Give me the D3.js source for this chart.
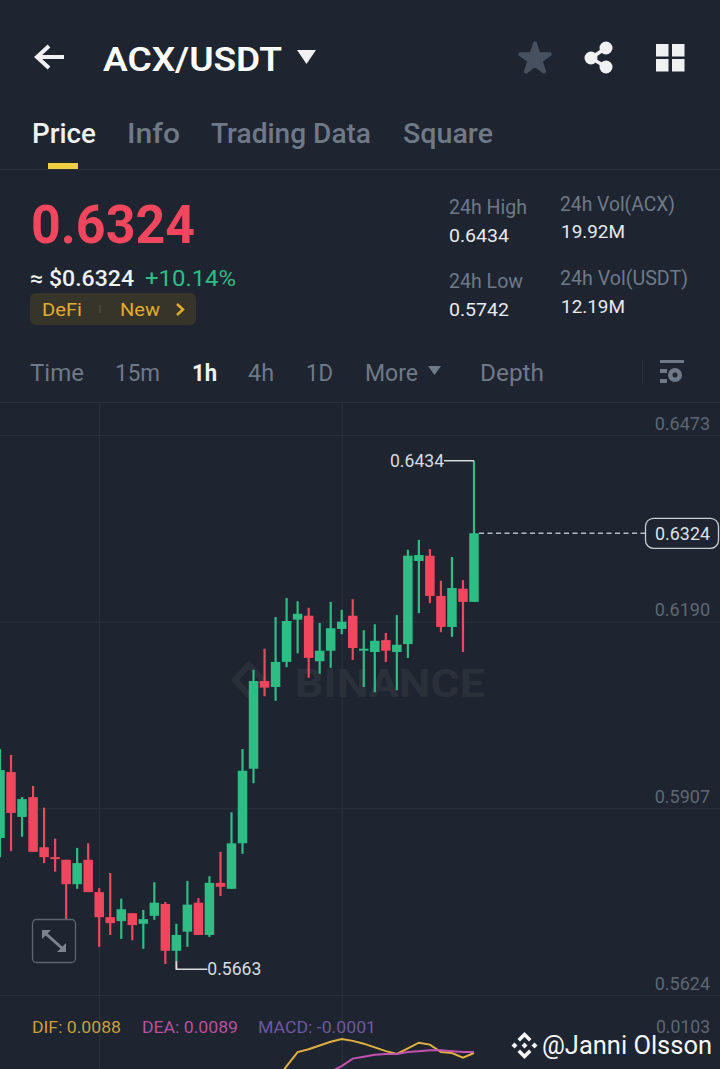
<!DOCTYPE html>
<html>
<head>
<meta charset="utf-8">
<script src="https://cdn.jsdelivr.net/npm/d3@7"></script>
<style>
  html, body { margin: 0; padding: 0; background: #1e2530; overflow: hidden; }
  svg { display: block; }
  text { font-family: Roboto, "Noto Sans", sans-serif; }
</style>
</head>
<body>
<div id="chart"></div>
<script>
// candles, oldest first
var opens = [0.5862,0.5962,0.5894,0.5924,0.5848,0.5833,0.5829,0.5792,0.5829,0.5780,0.5742,
  0.5736,0.5748,0.5732,0.5744,0.5762,0.5691,0.5720,0.5764,0.5715,0.5794,0.5785,
  0.5854,0.5967,0.6100,0.6091,0.6129,0.6193,0.6199,0.6130,0.6146,0.6179,0.6199,
  0.6146,0.6144,0.6162,0.6144,0.6156,0.6282,0.6290,0.6229,0.6182,0.6240,0.6220];
var closes = [0.5965,0.5900,0.5921,0.5841,0.5833,0.5830,0.5792,0.5824,0.5780,0.5742,0.5733,
  0.5754,0.5730,0.5739,0.5764,0.5691,0.5715,0.5761,0.5715,0.5794,0.5788,0.5854,
  0.5964,0.6100,0.6090,0.6129,0.6191,0.6202,0.6135,0.6146,0.6180,0.6190,0.6150,
  0.6149,0.6161,0.6146,0.6155,0.6290,0.6291,0.6229,0.6182,0.6241,0.6220,0.6324];
var highs = [0.5997,0.5988,0.5924,0.5941,0.5908,0.5861,0.5829,0.5847,0.5854,0.5786,0.5809,
  0.5770,0.5748,0.5753,0.5795,0.5765,0.5732,0.5797,0.5771,0.5804,0.5841,0.5901,
  0.5997,0.6117,0.6149,0.6197,0.6226,0.6221,0.6211,0.6188,0.6220,0.6208,0.6224,
  0.6177,0.6186,0.6173,0.6200,0.6299,0.6314,0.6300,0.6252,0.6288,0.6253,0.6434];
var lows = [0.5833,0.5842,0.5864,0.5841,0.5824,0.5811,0.5738,0.5785,0.5780,0.5697,0.5715,
  0.5709,0.5707,0.5694,0.5738,0.5671,0.5663,0.5697,0.5715,0.5712,0.5774,0.5785,
  0.5838,0.5945,0.6077,0.6070,0.6121,0.6142,0.6105,0.6111,0.6120,0.6171,0.6132,
  0.6091,0.6083,0.6129,0.6086,0.6135,0.6203,0.6218,0.6174,0.6167,0.6144,0.6220];

// macd lines, only the part that shows
var difStart = 25;
var difValues = [0.0057,0.0074,0.0089,0.0092,0.0096,0.0100,0.0103,0.0101,0.0098,0.0094,
  0.0090,0.0087,0.0093,0.0099,0.0097,0.0089,0.0088,0.0083,0.0088];
var deaStart = 30;
var deaValues = [0.0068,0.0074,0.0082,0.0084,0.0086,0.0087,0.0087,0.0089,0.0090,0.0091,
  0.0091,0.0090,0.0089,0.0089];

var priceTicks = [0.6473, 0.6190, 0.5907, 0.5624];
var gridIndexes = [9, 31];

var tabs = ["Price", "Info", "Trading Data", "Square"];
var intervals = ["Time", "15m", "1h", "4h", "1D", "More", "Depth"];

var width = 720, height = 1069;
var bg = "#1e2530", gridColor = "#2c323d", upColor = "#2ebd85", downColor = "#f0475e";
var greyText = "#6f7988", axisText = "#5f6773";

var svg = d3.select("#chart").append("svg")
  .attr("width", width)
  .attr("height", height);

svg.append("rect").attr("width", width).attr("height", height).attr("fill", bg);

function label(str, x1, x2, base, size, color, weight) {
  return svg.append("text")
    .attr("x", x1).attr("y", base)
    .attr("textLength", x2 - x1)
    .attr("lengthAdjust", "spacingAndGlyphs")
    .attr("font-size", size)
    .attr("font-weight", weight || 400)
    .attr("fill", color)
    .text(str);
}

// ---- header ----
svg.append("path")
  .attr("d", "M64,57H38M49,46L37,57L49,68")
  .attr("fill", "none").attr("stroke", "#f0f1f3").attr("stroke-width", 4);
label("ACX/USDT", 103, 282, 71, 34, "#ffffff", 600);
svg.append("path").attr("d", "M297,50H316L306.5,64Z").attr("fill", "#f0f1f3");

var star = d3.symbol().type(d3.symbolStar).size(270)();
svg.append("path").attr("d", star).attr("transform", "translate(535,59)")
  .attr("fill", "#47505f").attr("stroke", "#47505f")
  .attr("stroke-width", 4).attr("stroke-linejoin", "round");

var share = svg.append("g").attr("fill", "#f0f1f3");
[[591, 58], [606, 48], [606, 67]].forEach(function(p) {
  share.append("circle").attr("cx", p[0]).attr("cy", p[1]).attr("r", 6.5);
});
svg.append("path").attr("d", "M606,48L591,58L606,67")
  .attr("fill", "none").attr("stroke", "#f0f1f3").attr("stroke-width", 3.5);

[[656, 44], [672, 44], [656, 59], [672, 59]].forEach(function(p) {
  svg.append("rect").attr("x", p[0]).attr("y", p[1]).attr("width", 12.5).attr("height", 12.5).attr("fill", "#f0f1f3");
});

// tabs
var tabX = [[32, 96], [127, 180], [211, 371], [403, 493]];
tabs.forEach(function(t, i) {
  label(t, tabX[i][0], tabX[i][1], 143, 27, i === 0 ? "#f0f1f3" : greyText, 500);
});
svg.append("rect").attr("x", 48).attr("y", 163).attr("width", 30).attr("height", 6).attr("fill", "#f0cf3f");
svg.append("line").attr("x1", 0).attr("x2", width).attr("y1", 169.5).attr("y2", 169.5).attr("stroke", gridColor);

// ---- price block ----
label("0.6324", 31, 195, 243, 54, downColor, 700);
label("≈ $0.6324", 30, 134, 286, 22, "#f0f1f3", 500);
label("+10.14%", 145, 236, 286, 22, upColor, 400);

svg.append("rect").attr("x", 30).attr("y", 293).attr("width", 166).attr("height", 32).attr("rx", 6).attr("fill", "#37342a");
label("DeFi", 42, 82, 316, 19, "#e3ac2c");
svg.append("line").attr("x1", 100).attr("x2", 100).attr("y1", 305).attr("y2", 313).attr("stroke", "#5a5236");
label("New", 120, 160, 316, 19, "#e3ac2c");
svg.append("path").attr("d", "M177,304L183,309.5L177,315")
  .attr("fill", "none").attr("stroke", "#e3ac2c").attr("stroke-width", 2.5);

label("24h High", 449, 527, 214, 20, greyText);
label("0.6434", 449, 509, 242, 19, "#e8eaee");
label("24h Vol(ACX)", 560, 675, 211, 20, greyText);
label("19.92M", 561, 625, 238, 19, "#e8eaee");
label("24h Low", 449, 523, 288, 20, greyText);
label("0.5742", 449, 509, 316, 19, "#e8eaee");
label("24h Vol(USDT)", 560, 688, 285, 20, greyText);
label("12.19M", 561, 625, 313, 19, "#e8eaee");

// interval row
var intervalX = [[30, 84], [115, 160], [192, 217], [248, 274], [306, 333], [365, 418], [480, 544]];
intervals.forEach(function(t, i) {
  label(t, intervalX[i][0], intervalX[i][1], 381, 24, t === "1h" ? "#f0f1f3" : greyText, t === "1h" ? 700 : 400);
});
svg.append("path").attr("d", "M428,366H441L434.5,375Z").attr("fill", greyText);
svg.append("line").attr("x1", 642.5).attr("x2", 642.5).attr("y1", 360).attr("y2", 384).attr("stroke", gridColor);

var settings = svg.append("g").attr("fill", greyText);
settings.append("rect").attr("x", 660).attr("y", 360).attr("width", 24).attr("height", 3);
settings.append("rect").attr("x", 660).attr("y", 369).attr("width", 7).attr("height", 4);
settings.append("rect").attr("x", 660).attr("y", 379).attr("width", 7).attr("height", 4);
settings.append("circle").attr("cx", 675).attr("cy", 375).attr("r", 7);
settings.append("circle").attr("cx", 675).attr("cy", 375).attr("r", 2.5).attr("fill", bg);

svg.append("line").attr("x1", 0).attr("x2", width).attr("y1", 402.5).attr("y2", 402.5).attr("stroke", gridColor);

// ---- scales ----
var x = d3.scaleLinear().domain([0, 43]).range([0, 474]);
var y = d3.scaleLinear().domain([0.6473, 0.5624]).range([435, 995]);
var macdY = d3.scaleLinear().domain([0.0103, 0.0088]).range([1039, 1053]);

// grid
svg.append("g")
  .attr("transform", "translate(0,402)")
  .call(d3.axisBottom(x).tickValues(gridIndexes).tickSize(height - 402).tickFormat(""))
  .call(function(g) {
    g.select(".domain").remove();
    g.selectAll("line").attr("stroke", gridColor);
  });

svg.append("g")
  .call(d3.axisRight(y).tickValues(priceTicks).tickSize(width).tickFormat(d3.format(".4f")))
  .call(function(g) {
    g.select(".domain").remove();
    g.selectAll("line").attr("stroke", gridColor);
    g.selectAll("text")
      .attr("x", 710).attr("dy", -6)
      .attr("text-anchor", "end")
      .attr("font-size", 18)
      .attr("font-family", "Roboto, sans-serif")
      .attr("fill", axisText);
  });

// watermark
svg.append("text")
  .attr("x", 295).attr("y", 697)
  .attr("textLength", 190)
  .attr("lengthAdjust", "spacingAndGlyphs")
  .attr("font-size", 39).attr("font-weight", 700)
  .attr("fill", "#2a303a")
  .text("BINANCE");
svg.append("path")
  .attr("d", "M257,665L271,680L257,695L243,680Z")
  .attr("transform", "translate(-8,0)")
  .attr("fill", "none").attr("stroke", "#2a303a").attr("stroke-width", 6);

// ---- candles ----
var candleData = opens.map(function(o, i) {
  return { i: i, o: o, c: closes[i], h: highs[i], l: lows[i] };
});
var colorOf = function(d) { return d.c >= d.o ? upColor : downColor; };

var candles = svg.append("g");
candles.selectAll(".wick")
  .data(candleData)
  .enter()
  .append("line")
  .attr("class", "wick")
  .attr("x1", function(d) { return x(d.i); })
  .attr("x2", function(d) { return x(d.i); })
  .attr("y1", function(d) { return y(d.h); })
  .attr("y2", function(d) { return y(d.l); })
  .attr("stroke", colorOf)
  .attr("stroke-width", 2.2);
candles.selectAll(".body")
  .data(candleData)
  .enter()
  .append("rect")
  .attr("class", "body")
  .attr("x", function(d) { return x(d.i) - 4.75; })
  .attr("width", 9.5)
  .attr("y", function(d) { return y(Math.max(d.o, d.c)); })
  .attr("height", function(d) { return Math.max(2, Math.abs(y(d.o) - y(d.c))); })
  .attr("fill", colorOf);

// high / low callouts
var maxHigh = d3.max(highs), minLow = d3.min(lows);
var maxI = highs.indexOf(maxHigh), minI = lows.indexOf(minLow);
svg.append("line")
  .attr("x1", x(maxI) - 30).attr("x2", x(maxI))
  .attr("y1", y(maxHigh)).attr("y2", y(maxHigh))
  .attr("stroke", "#d8dbe0").attr("stroke-width", 1.5);
label(maxHigh.toFixed(4), x(maxI) - 84, x(maxI) - 30, y(maxHigh) + 6, 18, "#d8dbe0");
svg.append("path")
  .attr("d", "M" + x(minI) + "," + (y(minLow) - 8) + "V" + y(minLow) + "H" + (x(minI) + 31))
  .attr("fill", "none")
  .attr("stroke", "#d8dbe0").attr("stroke-width", 1.5);
label(minLow.toFixed(4), x(minI) + 31, x(minI) + 85, y(minLow) + 6, 18, "#d8dbe0");

// last price
var last = closes[closes.length - 1];
svg.append("line")
  .attr("x1", x(43) + 5).attr("x2", 645)
  .attr("y1", y(last)).attr("y2", y(last))
  .attr("stroke", "#b4b8bf").attr("stroke-width", 1.5).attr("stroke-dasharray", "5,3.5");
svg.append("rect")
  .attr("x", 645.5).attr("y", y(last) - 15).attr("width", 73).attr("height", 30).attr("rx", 8)
  .attr("fill", bg).attr("stroke", "#c9cdd3").attr("stroke-width", 1.3);
label(last.toFixed(4), 655, 710, y(last) + 7, 18, "#dfe1e5");

// expand button
svg.append("rect").attr("x", 32.5).attr("y", 919.5).attr("width", 43).attr("height", 43).attr("rx", 4)
  .attr("fill", bg).attr("stroke", "#5e6570").attr("stroke-width", 1.3);
svg.append("path")
  .attr("d", "M42,930H51L42,939ZM66,952H57L66,943Z").attr("fill", "#7d848f");
svg.append("path")
  .attr("d", "M45,933L63,949")
  .attr("stroke", "#7d848f").attr("stroke-width", 3);

// ---- macd ----
svg.append("defs").append("clipPath").attr("id", "macdClip")
  .append("rect").attr("x", 0).attr("y", 996).attr("width", width).attr("height", height - 996);

var difLine = d3.line()
  .x(function(d, i) { return x(difStart + i); })
  .y(function(d) { return macdY(d); });
var deaLine = d3.line()
  .x(function(d, i) { return x(deaStart + i); })
  .y(function(d) { return macdY(d); });

var macd = svg.append("g").attr("clip-path", "url(#macdClip)");
macd.append("path").attr("d", difLine(difValues))
  .attr("fill", "none").attr("stroke", "#e0b040").attr("stroke-width", 2);
macd.append("path").attr("d", deaLine(deaValues))
  .attr("fill", "none").attr("stroke", "#c452b0").attr("stroke-width", 2);

label("DIF: 0.0088", 32, 121, 1033, 17, "#c99f3a");
label("DEA: 0.0089", 142, 238, 1033, 17, "#b8509f");
label("MACD: -0.0001", 258, 376, 1033, 17, "#6f57a0");
label("0.0103", 656, 710, 1033, 18, axisText);

// user watermark
var mark = svg.append("g").attr("fill", "#f4f5f6").attr("transform", "translate(524.5,1045.5)");
mark.append("path").attr("d", "M0,-13.5L7,-6.5L4.5,-4L0,-8.5L-4.5,-4L-7,-6.5Z");
mark.append("path").attr("d", "M0,13.5L7,6.5L4.5,4L0,8.5L-4.5,4L-7,6.5Z");
mark.append("path").attr("d", "M-13,0L-10,-3L-7,0L-10,3Z");
mark.append("path").attr("d", "M13,0L10,-3L7,0L10,3Z");
mark.append("path").attr("d", "M0,-3L3,0L0,3L-3,0Z");
label("@Janni Olsson", 542, 712, 1054, 25, "#f7f8f9", 400);
</script>
</body>
</html>
